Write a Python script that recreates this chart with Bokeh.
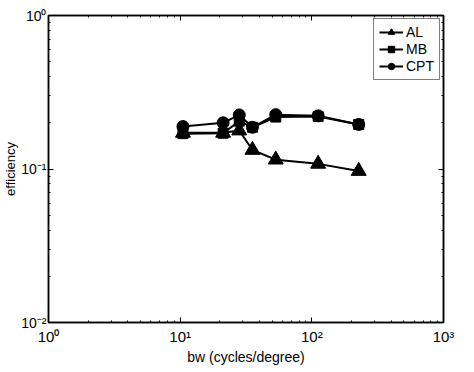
from bokeh.plotting import figure
from bokeh.models import LogAxis, FixedTicker, CustomJSTickFormatter, Legend, LegendItem
from bokeh.embed import file_html
from bokeh.resources import INLINE

# data
bw = [10.5, 21.2, 28.1, 35.4, 53.2, 111.7, 227.0]
al = [0.172, 0.172, 0.178, 0.133, 0.115, 0.108, 0.097]
mb = [0.170, 0.171, 0.205, 0.187, 0.218, 0.220, 0.195]
cpt = [0.189, 0.200, 0.225, 0.187, 0.226, 0.222, 0.195]
series_names = ["AL", "MB", "CPT"]
x_major = [1, 10, 100, 1000]
y_major = [0.01, 0.1, 1]
x_minor = [k * 10 ** d for d in range(0, 3) for k in range(2, 10)]
y_minor = [k * 10.0 ** d for d in range(-2, 0) for k in range(2, 10)]

FONT = "Liberation Sans"

p = figure(frame_width=395, frame_height=307, x_axis_type="log", y_axis_type="log",
           x_range=(1, 1000), y_range=(0.01, 1),
           output_backend="svg", toolbar_location=None,
           min_border_left=44, min_border_right=19, min_border_top=15, min_border_bottom=42)

fmt = CustomJSTickFormatter(code=r"""
const sup = {'0':'\u2070','1':'\u00b9','2':'\u00b2','3':'\u00b3','-':'\u207b'};
const e = Math.round(Math.log10(tick));
return '10' + String(e).split('').map(c => sup[c]).join('');
""")

p.xgrid.visible = False
p.ygrid.visible = False
p.outline_line_color = "black"
p.outline_line_width = 1.5

def style(ax, ticks, minor, labels=True):
    ax.ticker = FixedTicker(ticks=ticks, minor_ticks=minor)
    ax.axis_line_color = "black"
    ax.axis_line_width = 1.5
    ax.major_tick_in = 5
    ax.major_tick_out = 0
    ax.minor_tick_in = 2
    ax.minor_tick_out = 0
    ax.major_tick_line_color = "black"
    ax.minor_tick_line_color = "black"
    ax.major_tick_line_width = 1
    ax.minor_tick_line_width = 1
    if labels:
        ax.formatter = fmt
        ax.major_label_text_font = FONT
        ax.major_label_text_font_size = "15px"
        ax.major_label_text_color = "black"
        ax.axis_label_text_font = FONT
        ax.axis_label_text_font_size = "14px"
        ax.axis_label_text_font_style = "normal"
        ax.axis_label_text_color = "black"
    else:
        ax.major_label_text_font_size = "1px"
        ax.major_label_text_alpha = 0
        ax.major_label_standoff = 0

style(p.xaxis[0], x_major, x_minor)
style(p.yaxis[0], y_major, y_minor)
p.xaxis[0].axis_label = "bw (cycles/degree)"
p.yaxis[0].axis_label = "efficiency"
p.xaxis[0].major_label_standoff = 5
p.xaxis[0].axis_label_standoff = 1
p.yaxis[0].major_label_text_font_size = "14px"
p.yaxis[0].major_label_standoff = 2
p.yaxis[0].axis_label_text_font_size = "13px"
p.yaxis[0].axis_label_standoff = 0

top = LogAxis()
style(top, x_major, x_minor, labels=False)
p.add_layout(top, "above")
right = LogAxis()
style(right, y_major, y_minor, labels=False)
p.add_layout(right, "right")

items = []
for name, ys, marker, size in [("AL", al, "triangle", 15), ("MB", mb, "square", 10), ("CPT", cpt, "circle", 12)]:
    r1 = p.line(bw, ys, line_color="black", line_width=2)
    r2 = p.scatter(bw, ys, marker=marker, size=size, fill_color="black", line_color="black")
    items.append(LegendItem(label=name, renderers=[r1, r2]))

legend = Legend(items=items, location="top_right")
legend.border_line_color = "black"
legend.border_line_width = 1
legend.background_fill_color = "white"
legend.background_fill_alpha = 1
legend.label_text_font = FONT
legend.label_text_font_size = "14px"
legend.label_text_color = "black"
legend.glyph_width = 24
legend.glyph_height = 16
legend.label_height = 16
legend.spacing = 1
legend.padding = 5
legend.margin = 3
legend.label_standoff = 3
p.add_layout(legend, "center")

open("out.html", "w").write(file_html(p, INLINE))
